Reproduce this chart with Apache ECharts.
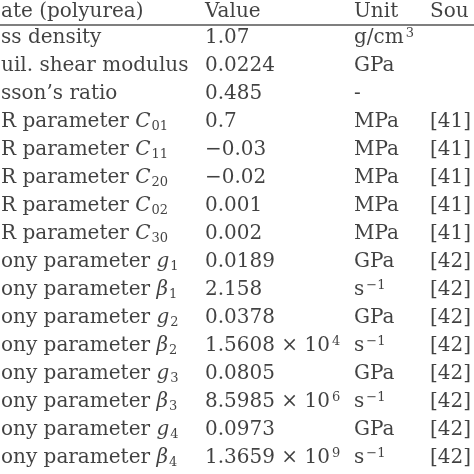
<!DOCTYPE html><html><head><meta charset="utf-8"><script src="https://cdn.jsdelivr.net/npm/echarts@6/dist/echarts.min.js"></script>
<style>html,body{margin:0;background:#fff}#c{width:474px;height:474px}</style></head><body><div id="c"></div><script>
var headers=['ate (polyurea)','Value','Unit','Sou'];
var names=['ss density','uil. shear modulus','sson\u2019s ratio','{n|R parameter }{i|C}{sub|01}','{n|R parameter }{i|C}{sub|11}','{n|R parameter }{i|C}{sub|20}','{n|R parameter }{i|C}{sub|02}','{n|R parameter }{i|C}{sub|30}','{n|ony parameter }{i|g}{sub|1}','{n|ony parameter }{i|\u03b2}{sub|1}','{n|ony parameter }{i|g}{sub|2}','{n|ony parameter }{i|\u03b2}{sub|2}','{n|ony parameter }{i|g}{sub|3}','{n|ony parameter }{i|\u03b2}{sub|3}','{n|ony parameter }{i|g}{sub|4}','{n|ony parameter }{i|\u03b2}{sub|4}'];
var values=['1.07','0.0224','0.485','0.7','\u22120.03','\u22120.02','0.001','0.002','0.0189','2.158','0.0378','{n|1.5608 \u00d7 10}{sup|4}','0.0805','{n|8.5985 \u00d7 10}{sup|6}','0.0973','{n|1.3659 \u00d7 10}{sup|9}'];
var units=['{n|g/cm}{sup|3}','GPa','-','MPa','MPa','MPa','MPa','MPa','GPa','{n|s}{sup|\u22121}','GPa','{n|s}{sup|\u22121}','GPa','{n|s}{sup|\u22121}','GPa','{n|s}{sup|\u22121}'];
var sources=['','','','[41]','[41]','[41]','[41]','[41]','[42]','[42]','[42]','[42]','[42]','[42]','[42]','[42]'];
var colX=[1,205,354,430];
var F='DejaVu Serif',FS=20;
var rich={n:{fontFamily:F,fontSize:FS,color:'#111'},i:{fontFamily:F,fontSize:FS,fontStyle:'italic',color:'#111'},sub:{fontFamily:F,fontSize:13,color:'#111',padding:[9,0,0,1]},sup:{fontFamily:F,fontSize:13,color:'#111',padding:[0,0,9,2]}};
var cols=[names,values,units,sources];
var series=cols.map(function(arr,c){
  var d=arr.map(function(t,r){return {value:[colX[c],r],label:{formatter:t.indexOf('{')===0?t:'{n|'+t+'}'}};});
  d.push({value:[colX[c],-0.93],label:{formatter:'{n|'+headers[c]+'}'}});
  return {type:'scatter',symbolSize:0,data:d,silent:true,label:{show:true,position:'inside',align:'left',verticalAlign:'middle',rich:rich},
    markLine:c===0?{silent:true,symbol:'none',label:{show:false},lineStyle:{color:'#555',width:1.5,type:'solid'},data:[{yAxis:-0.46}]}:undefined};
});
var ch=echarts.init(document.getElementById('c'));
ch.setOption({animation:false,grid:{left:0,right:0,top:0,bottom:0},
 xAxis:{type:'value',min:0,max:474,show:false},
 yAxis:{type:'value',inverse:true,min:-38/28,max:(474-38)/28,show:false},
 series:series});
</script></body></html>
